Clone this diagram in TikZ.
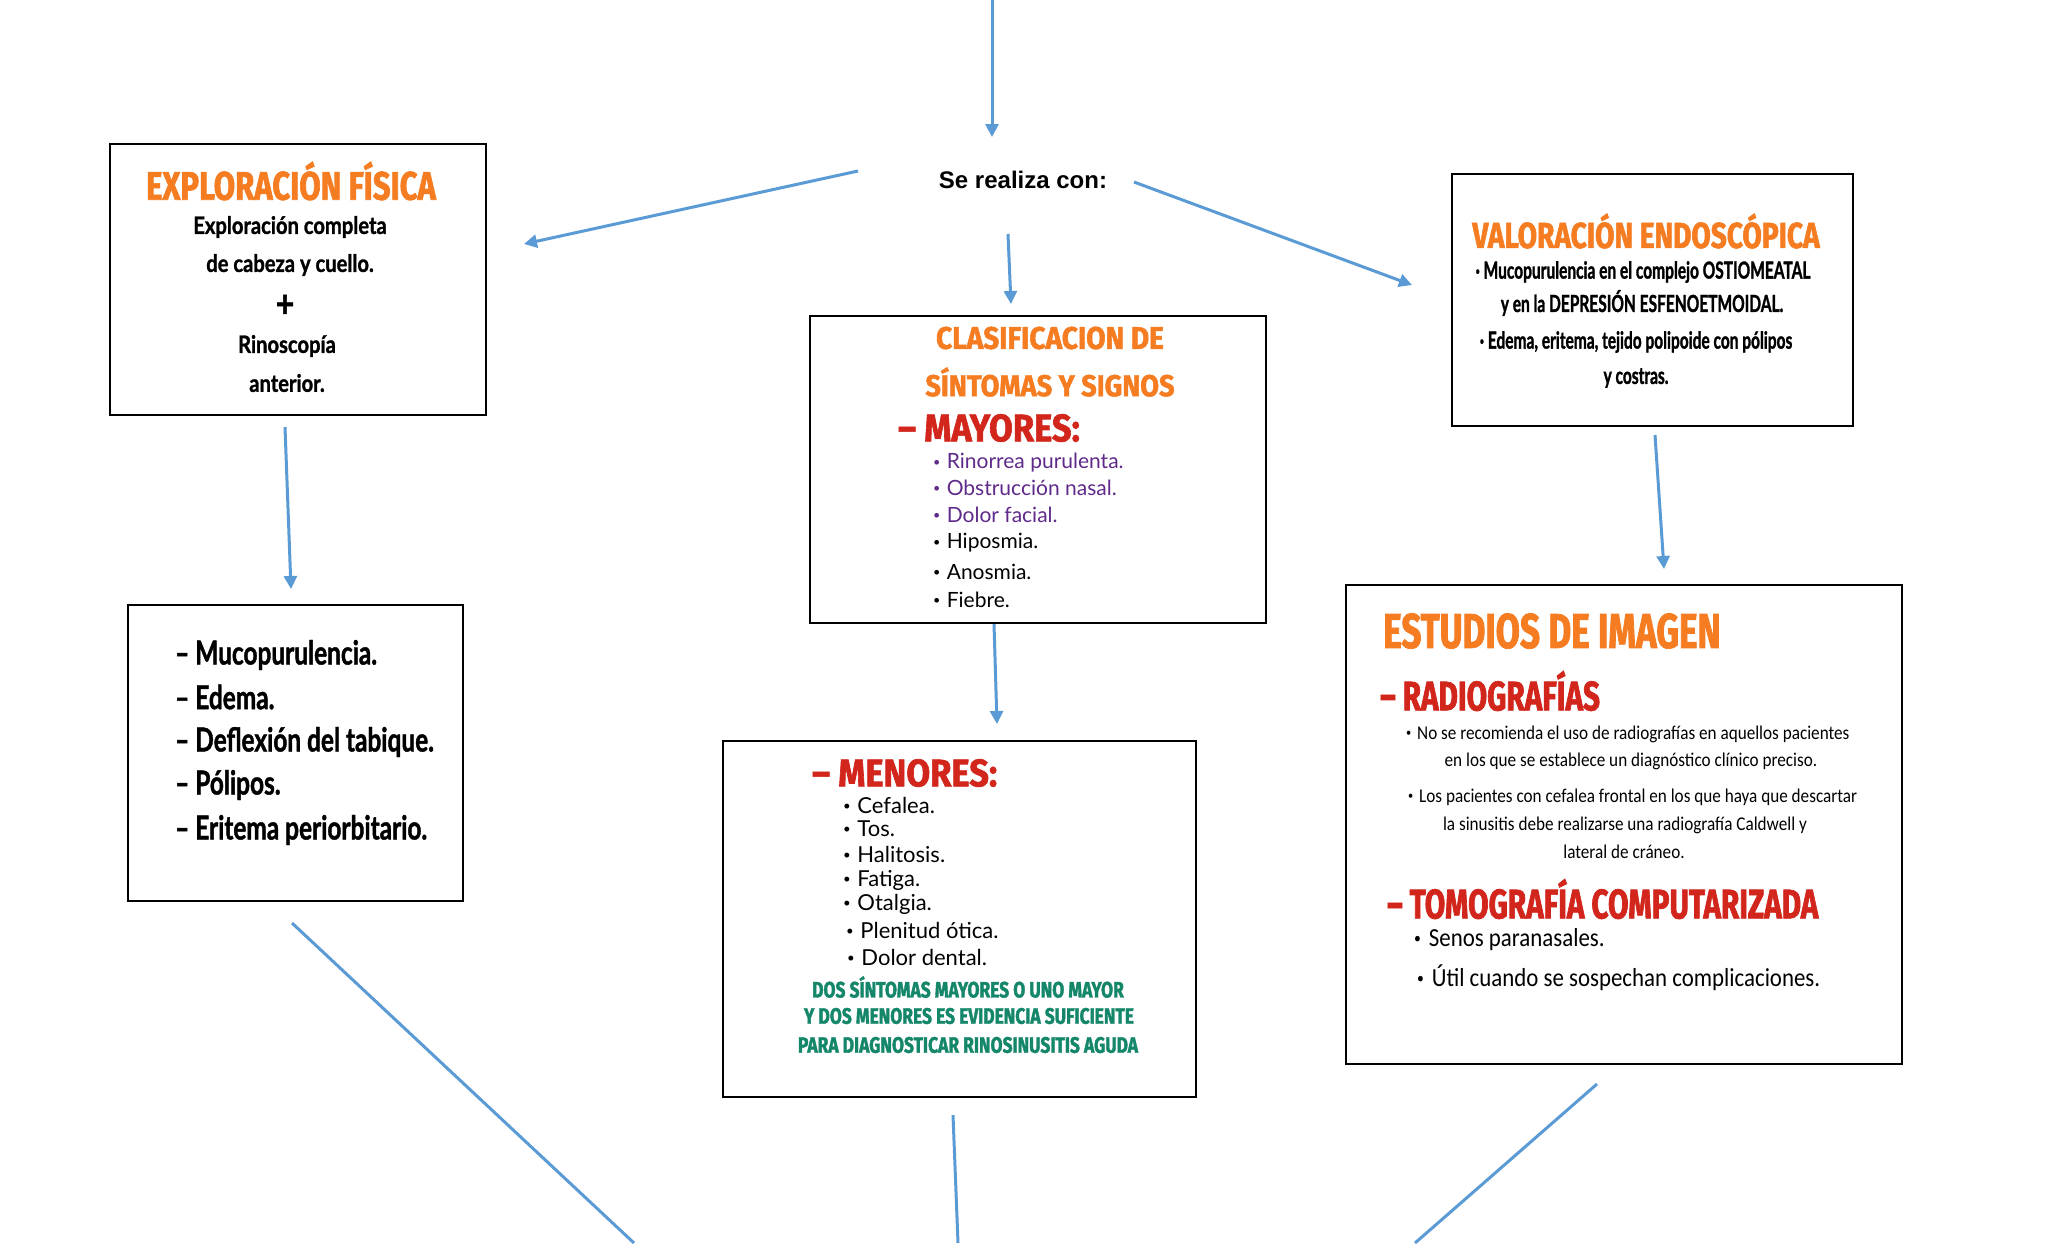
\documentclass[tikz,border=0pt]{standalone}
\usepackage{fontspec}
\usepackage{graphicx}
\setmainfont{Lato}
\newfontfamily\titleN{Fira Sans}[FakeStretch=0.72, BoldFeatures={FakeBold=1.6}]
\newfontfamily\titleM{Fira Sans}[FakeStretch=0.78, BoldFeatures={FakeBold=1.6}]
\newfontfamily\titleW{Fira Sans}[FakeStretch=0.90, BoldFeatures={FakeBold=1.6}]
\newfontfamily\handN{Lato}[FakeStretch=0.84, BoldFeatures={FakeBold=1.2}]
\newfontfamily\handC{Lato}[FakeStretch=0.74, BoldFeatures={FakeBold=1.2}]
\newfontfamily\handX{Lato}[FakeStretch=0.66, BoldFeatures={FakeBold=1.2}]
\newfontfamily\listf{Lato}
\newfontfamily\carl{Carlito}[FakeStretch=0.88]
\newfontfamily\arialf{Liberation Sans}
\usetikzlibrary{arrows.meta}
\definecolor{ttlorange}{HTML}{F57C20}
\definecolor{ttlred}{HTML}{D2261C}
\definecolor{itpurple}{HTML}{5F2A8A}
\definecolor{itgreen}{HTML}{14866A}
\definecolor{arrowblue}{HTML}{5B9BD5}
\newcommand\fs[1]{\fontsize{#1}{#1}\selectfont}
\newcommand\bul{\raisebox{0.13em}{\scalebox{0.6}{•}}\hspace{0.3em}}
\begin{document}
\begin{tikzpicture}[x=1pt,y=-1pt,
  box/.style={draw=black, line width=2.5pt, fill=white, inner sep=0pt, outer sep=0pt, anchor=north west},
  txt/.style={inner sep=0pt, anchor=center},
  txtw/.style={inner sep=0pt, anchor=west},
  conn/.style={draw=arrowblue, line width=3pt},
  arr/.style={conn, -{Triangle[length=13pt,width=13pt]}},
  title/.style={text=ttlorange},
  red/.style={text=ttlred},
  green/.style={font=\titleM\bfseries\fs{22.3}, text=itgreen},
  handn/.style={font=\handN\bfseries\fs{24}},
  handc/.style={font=\handX\bfseries\fs{23.5}},
  handl/.style={font=\handC\bfseries\fs{33}},
  mayor/.style={font=\listf\fs{21}},
  menor/.style={font=\listf\fs{22}},
  calsm/.style={font=\carl\fs{19.5}},
  calbg/.style={font=\carl\fs{26}}
]
\useasboundingbox[fill=white] (0,0) rectangle (2048,1243);

% ---------- boxes ----------
\node[box, minimum width=376pt, minimum height=271pt] (b1) at (110,144) {};
\node[box, minimum width=456pt, minimum height=307pt] (b2) at (810,316) {};
\node[box, minimum width=401pt, minimum height=252pt] (b3) at (1452,174) {};
\node[box, minimum width=335pt, minimum height=296pt] (b4) at (128,605) {};
\node[box, minimum width=473pt, minimum height=356pt] (b5) at (723,741) {};
\node[box, minimum width=556pt, minimum height=479pt] (b6) at (1346,585) {};

% ---------- central label ----------
\node[txt, font=\arialf\bfseries\fs{24}] (sr) at (1023,180) {Se realiza con:};

% ---------- box 1 ----------
\node[txt, title, font=\titleM\bfseries\fs{39.8}] (b1t) at (291,181) {EXPLORACIÓN FÍSICA};
\node[txt, handn] (b1a) at (290,227) {Exploración completa};
\node[txt, handn] (b1b) at (290,265) {de cabeza y cuello.};
\node[txt, handn, font=\handN\bfseries\fs{38}] (b1c) at (285,306) {+};
\node[txt, handn] (b1d) at (287,346) {Rinoscopía};
\node[txt, handn] (b1e) at (287,383) {anterior.};

% ---------- box 2 ----------
\node[txt, title, font=\titleW\bfseries\fs{31.2}] (b2t1) at (1050,338) {CLASIFICACION DE};
\node[txt, title, font=\titleW\bfseries\fs{30.2}] (b2t2) at (1050,382) {SÍNTOMAS Y SIGNOS};
\node[txtw, red, font=\titleW\bfseries\fs{38.3}] (b2h) at (898,428) {– MAYORES:};
\node[txtw, mayor, text=itpurple] (b2i1) at (933,463) {\bul Rinorrea purulenta.};
\node[txtw, mayor, text=itpurple] (b2i2) at (933,488) {\bul Obstrucción nasal.};
\node[txtw, mayor, text=itpurple] (b2i3) at (933,515) {\bul Dolor facial.};
\node[txtw, mayor] (b2i4) at (933,543) {\bul Hiposmia.};
\node[txtw, mayor] (b2i5) at (933,572) {\bul Anosmia.};
\node[txtw, mayor] (b2i6) at (933,600) {\bul Fiebre.};

% ---------- box 3 ----------
\node[txt, title, font=\titleM\bfseries\fs{36}] (b3t) at (1646,231) {VALORACIÓN ENDOSCÓPICA};
\node[txt, handc] (b3a) at (1643,272) {· Mucopurulencia en el complejo OSTIOMEATAL};
\node[txt, handc] (b3b) at (1642,303) {y en la DEPRESIÓN ESFENOETMOIDAL.};
\node[txt, handc] (b3c) at (1636,342) {· Edema, eritema, tejido polipoide con pólipos};
\node[txt, handc] (b3d) at (1636,378) {y costras.};

% ---------- box 4 ----------
\node[txtw, handl] (b4a) at (175,655) {– Mucopurulencia.};
\node[txtw, handl] (b4b) at (175,697) {– Edema.};
\node[txtw, handl] (b4c) at (175,742) {– Deflexión del tabique.};
\node[txtw, handl] (b4d) at (175,785) {– Pólipos.};
\node[txtw, handl] (b4e) at (175,830) {– Eritema periorbitario.};

% ---------- box 5 ----------
\node[txtw, red, font=\titleW\bfseries\fs{38.3}] (b5h) at (812,773) {– MENORES:};
\node[txtw, menor] (b5i1) at (843,805) {\bul Cefalea.};
\node[txtw, menor] (b5i2) at (843,829) {\bul Tos.};
\node[txtw, menor] (b5i3) at (843,854) {\bul Halitosis.};
\node[txtw, menor] (b5i4) at (843,880) {\bul Fatiga.};
\node[txtw, menor] (b5i5) at (843,904) {\bul Otalgia.};
\node[txtw, menor] (b5i6) at (846,930) {\bul Plenitud ótica.};
\node[txtw, menor] (b5i7) at (847,957) {\bul Dolor dental.};
\node[txt, green] (b5g1) at (968,987) {DOS SÍNTOMAS MAYORES O UNO MAYOR};
\node[txt, green] (b5g2) at (969,1016) {Y DOS MENORES ES EVIDENCIA SUFICIENTE};
\node[txt, green] (b5g3) at (968,1045) {PARA DIAGNOSTICAR RINOSINUSITIS AGUDA};

% ---------- box 6 ----------
\node[txtw, title, font=\titleN\bfseries\fs{48.8}] (b6t) at (1383,631) {ESTUDIOS DE IMAGEN};
\node[txtw, red, font=\titleN\bfseries\fs{41.3}] (b6h1) at (1380,691) {– RADIOGRAFÍAS};
\node[txtw, calsm] (b6a) at (1406,734) {\bul No se recomienda el uso de radiografías en aquellos pacientes};
\node[txt, calsm] (b6b) at (1631,761) {en los que se establece un diagnóstico clínico preciso.};
\node[txtw, calsm] (b6c) at (1408,797) {\bul Los pacientes con cefalea frontal en los que haya que descartar};
\node[txt, calsm] (b6d) at (1625,825) {la sinusitis debe realizarse una radiografía Caldwell y};
\node[txt, calsm] (b6e) at (1624,852) {lateral de cráneo.};
\node[txtw, red, font=\titleN\bfseries\fs{41.3}] (b6h2) at (1387,899) {– TOMOGRAFÍA COMPUTARIZADA};
\node[txtw, calbg] (b6f) at (1414,940) {\bul Senos paranasales.};
\node[txtw, calbg] (b6g) at (1417,978) {\bul Útil cuando se sospechan complicaciones.};

% ---------- connector end points ----------
\coordinate (pTop) at (992,0);
\coordinate (pTopEnd) at (992,137);
\coordinate (pL0) at (858,171);
\coordinate (pL1) at (524,244);
\coordinate (pC0) at (1008,234);
\coordinate (pC1) at (1011,304);
\coordinate (pR0) at (1134,182);
\coordinate (pR1) at (1412,285);
\coordinate (p10) at (285,427);
\coordinate (p11) at (291,589);
\coordinate (p20) at (994,624);
\coordinate (p21) at (997,724);
\coordinate (p30) at (1655,435);
\coordinate (p31) at (1664,569);
\coordinate (q10) at (292,923);
\coordinate (q11) at (634,1243);
\coordinate (q20) at (953,1115);
\coordinate (q21) at (958,1243);
\coordinate (q30) at (1597,1084);
\coordinate (q31) at (1415,1243);

% ---------- connectors ----------
\draw[arr] (pTop) -- (pTopEnd);
\draw[arr] (pL0) -- (pL1);
\draw[arr] (pC0) -- (pC1);
\draw[arr] (pR0) -- (pR1);
\draw[arr] (p10) -- (p11);
\draw[arr] (p20) -- (p21);
\draw[arr] (p30) -- (p31);
\draw[conn] (q10) -- (q11);
\draw[conn] (q20) -- (q21);
\draw[conn] (q30) -- (q31);
\end{tikzpicture}
\end{document}
